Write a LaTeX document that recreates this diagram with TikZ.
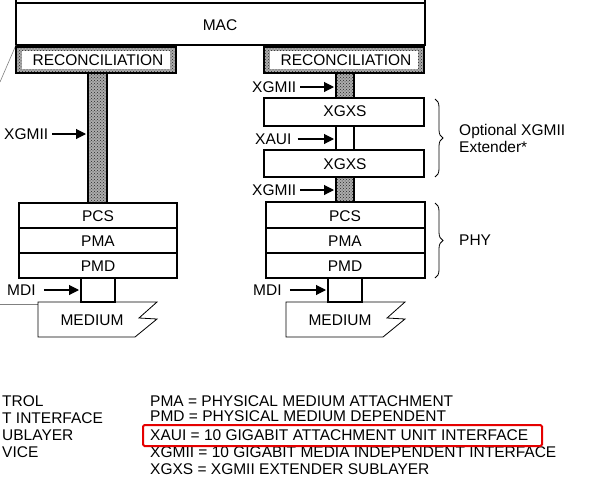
\documentclass[tikz,border=0pt]{standalone}
\usepackage{fontspec}
\setmainfont{Liberation Sans}
\usetikzlibrary{patterns,arrows.meta,decorations.pathreplacing}
\begin{document}
\begin{tikzpicture}[x=1pt,y=-1pt,
  every node/.style={font=\fontsize{15.5}{17}\selectfont, inner sep=0pt},
  box/.style={draw, line width=1.3pt, fill=white},
  hatch/.style={draw, line width=1.3pt, preaction={fill=gray!65}, pattern color=black!85, pattern=crosshatch dots},
  lbl/.style={anchor=west},
  arr/.style={line width=1.1pt, -{Triangle[length=10pt,width=10pt]}},
  brace/.style={decorate, decoration={brace, amplitude=8pt}, line width=0.8pt},
  legend/.style={anchor=base west}]
\useasboundingbox (0,0) rectangle (600,493);
% MAC
\draw[line width=1.3pt] (16,0) -- (16,45) -- (425,45) -- (425,0);
\draw[line width=1.3pt] (16,3) -- (425,3);
\node (mac) at (220,25) {MAC};
\draw[gray, line width=0.6pt] (16,45) -- (0,82);
\draw[gray, line width=0.6pt] (0,304) -- (38,304);
% Left stack
\draw[hatch] (16,47) rectangle (176,73);
\draw[fill=white,draw=none] (22,51) rectangle (170,69);
\node (recL) at (98,60) {RECONCILIATION};
\draw[hatch] (88,73) rectangle (107,203);
\coordinate (barL) at (86,134);
\node[lbl] (xgL) at (4,134) {XGMII};
\draw[arr] (xgL.east) ++(4,0) -- (barL);
\draw[box] (19,203) rectangle (177,228);
\draw[box] (19,228) rectangle (177,253);
\draw[box] (19,253) rectangle (177,278);
\node[fill=white, inner xsep=2pt] (pcsL) at (98,216) {PCS};
\node (pmaL) at (98,241) {PMA};
\node (pmdL) at (98,266) {PMD};
\draw[box] (81,278) rectangle (115,302);
\coordinate (mdiL) at (79,290);
\node[lbl] (mL) at (7,290) {MDI};
\draw[arr] (mL.east) ++(8,0) -- (mdiL);
\draw[line width=0.8pt] (38,302) -- (157,302) -- (139,318) -- (157,319) -- (135,337) -- (38,337) -- cycle;
\node (medL) at (92,320) {MEDIUM};
% Right stack
\draw[hatch] (264,47) rectangle (424,73);
\draw[fill=white,draw=none] (270,51) rectangle (418,69);
\node (recR) at (346,60) {RECONCILIATION};
\draw[hatch] (336,73) rectangle (354,98);
\node[lbl] (xg1) at (252,87) {XGMII};
\coordinate (b1) at (334,87);
\draw[arr] (xg1.east) ++(4,0) -- (b1);
\draw[box] (264,98) rectangle (424,126);
\node (xgxs1) at (345,111) {XGXS};
\draw[box] (336,126) rectangle (354,150);
\node[lbl] (xa) at (255,139) {XAUI};
\coordinate (b2) at (334,139);
\draw[arr] (xa.east) ++(6,0) -- (b2);
\draw[box] (264,150) rectangle (424,177);
\node (xgxs2) at (345,164) {XGXS};
\draw[hatch] (336,177) rectangle (354,202);
\node[lbl] (xg2) at (252,190) {XGMII};
\coordinate (b3) at (334,190);
\draw[arr] (xg2.east) ++(4,0) -- (b3);
\draw[box] (266,202) rectangle (425,228);
\draw[box] (266,228) rectangle (425,253);
\draw[box] (266,253) rectangle (425,278);
\node[fill=white, inner xsep=2pt] (pcsR) at (345,216) {PCS};
\node (pmaR) at (345,241) {PMA};
\node (pmdR) at (345,266) {PMD};
\draw[box] (328,278) rectangle (362,302);
\coordinate (mdiR) at (326,290);
\node[lbl] (mR) at (253,290) {MDI};
\draw[arr] (mR.east) ++(8,0) -- (mdiR);
\draw[line width=0.8pt] (286,302) -- (405,302) -- (387,318) -- (405,319) -- (383,337) -- (286,337) -- cycle;
\node (medR) at (340,320) {MEDIUM};
% braces
\draw[brace] (435,99) -- (435,177);
\node[lbl, align=left] (opt) at (459,138) {Optional XGMII\\Extender*};
\draw[brace] (435,203) -- (435,278);
\node[lbl] (phy) at (459,240) {PHY};
% legend
\node[legend] (l1) at (2,406) {TROL};
\node[legend] (l2) at (2,423) {T INTERFACE};
\node[legend] (l3) at (2,440) {UBLAYER};
\node[legend] (l4) at (2,457) {VICE};
\node[legend] (r1) at (150,406) {PMA = PHYSICAL MEDIUM ATTACHMENT};
\node[legend] (r2) at (150,421) {PMD = PHYSICAL MEDIUM DEPENDENT};
\node[legend] (r3) at (150,440) {XAUI = 10 GIGABIT ATTACHMENT UNIT INTERFACE};
\node[legend] (r4) at (150,457) {XGMII = 10 GIGABIT MEDIA INDEPENDENT INTERFACE};
\node[legend] (r5) at (150,474) {XGXS = XGMII EXTENDER SUBLAYER};
\draw[red!90!black, line width=2pt, rounded corners=1.5pt] (143,425) rectangle (542,446);
\end{tikzpicture}
\end{document}
